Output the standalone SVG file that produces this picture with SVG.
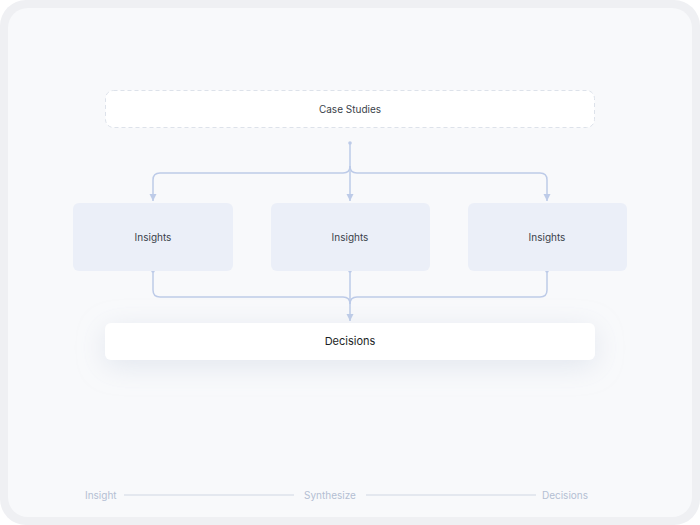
<svg xmlns="http://www.w3.org/2000/svg" width="700" height="525" viewBox="0 0 700 525">
  <style>
    text { font-family: Inter, "Liberation Sans", sans-serif; }
    .lbl { font-size: 10px; fill: #3a3f4a; text-anchor: middle; }
    .dec { font-size: 11px; fill: #1c1f26; text-anchor: middle; }
    .ins { fill: #ebeff8; }
    .conn { fill: none; stroke: #bdcbe8; stroke-width: 1.5; }
    .dot { fill: #bdcbe8; }
    .foot { font-size: 10px; fill: #b4bfd3; }
    .fline { stroke: #e4e8ef; stroke-width: 2; }
  </style>
  <defs>
    <marker id="arr" viewBox="0 0 7 8" refX="7" refY="4" markerWidth="7" markerHeight="8" markerUnits="userSpaceOnUse" orient="auto">
      <path d="M0,0.5 L7,4 L0,7.5 Z" fill="#bdcbe8"/>
    </marker>
    <filter id="sh" x="-20%" y="-100%" width="140%" height="300%">
      <feDropShadow dx="0" dy="6" stdDeviation="14" flood-color="#b9c3d6" flood-opacity="0.35"/>
    </filter>
  </defs>

  <rect x="0" y="0" width="700" height="525" rx="26" fill="#eff0f3"/>
  <rect x="8" y="8" width="684" height="509" rx="20" fill="#f8f9fb"/>

  <g id="case-studies">
    <rect x="105.5" y="90.5" width="489" height="37" rx="8" fill="#ffffff" stroke="#dde2ea" stroke-dasharray="4 3"/>
    <text class="lbl" x="350" y="112.5">Case Studies</text>
  </g>

  <g id="connectors">
    <circle class="dot" cx="350" cy="143" r="1.8"/>
    <path class="conn" d="M350,143 V201" marker-end="url(#arr)"/>
    <path class="conn" d="M350,166 Q350,173 343,173 H160 Q153,173 153,180 V201" marker-end="url(#arr)"/>
    <path class="conn" d="M350,166 Q350,173 357,173 H540 Q547,173 547,180 V201" marker-end="url(#arr)"/>

    <circle class="dot" cx="153" cy="271" r="1.8"/>
    <circle class="dot" cx="350" cy="271" r="1.8"/>
    <circle class="dot" cx="547" cy="271" r="1.8"/>
    <path class="conn" d="M153,271 V290 Q153,297 160,297 H343 Q350,297 350,304"/>
    <path class="conn" d="M547,271 V290 Q547,297 540,297 H357 Q350,297 350,304"/>
    <path class="conn" d="M350,271 V321" marker-end="url(#arr)"/>
  </g>

  <g id="insights-1">
    <rect class="ins" x="73" y="203" width="160" height="68" rx="6"/>
    <text class="lbl" x="153" y="240.5">Insights</text>
  </g>
  <g id="insights-2">
    <rect class="ins" x="271" y="203" width="159" height="68" rx="6"/>
    <text class="lbl" x="350" y="240.5">Insights</text>
  </g>
  <g id="insights-3">
    <rect class="ins" x="468" y="203" width="159" height="68" rx="6"/>
    <text class="lbl" x="547" y="240.5">Insights</text>
  </g>

  <g id="decisions">
    <rect x="105" y="323" width="490" height="37" rx="6" fill="#ffffff" filter="url(#sh)"/>
    <text class="dec" x="350" y="345">Decisions</text>
  </g>

  <g id="footer">
    <text class="foot" x="85" y="498.5">Insight</text>
    <line class="fline" x1="124" y1="495" x2="294" y2="495"/>
    <text class="foot" x="330" y="498.5" text-anchor="middle">Synthesize</text>
    <line class="fline" x1="366" y1="495" x2="536" y2="495"/>
    <text class="foot" x="588" y="498.5" text-anchor="end">Decisions</text>
  </g>
</svg>
